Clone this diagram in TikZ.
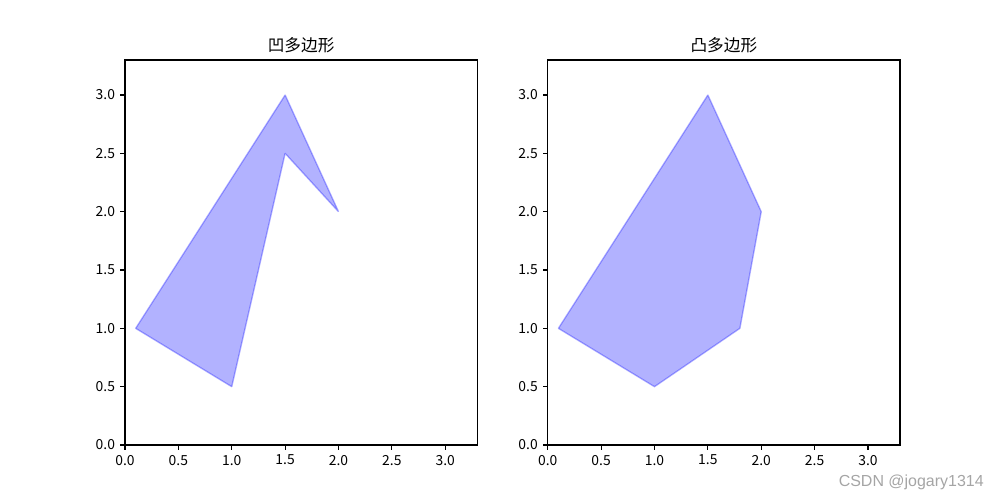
\documentclass[tikz,border=0pt]{standalone}
\usepackage{fontspec}
\newfontfamily\cjk{Noto Sans CJK SC}
\newfontfamily\wmfont{Liberation Sans}
\definecolor{wmgray}{RGB}{165,165,165}
\tikzset{
  spine/.style={draw=black, line width=0.8pt},
  tickmark/.style={draw=black, line width=0.8pt},
  ticklab/.style={font=\cjk\fontsize{10pt}{12pt}\selectfont, inner sep=0pt},
  ptitle/.style={font=\cjk\fontsize{12pt}{14pt}\selectfont, inner sep=0pt, anchor=base},
  poly/.style={fill=blue, fill opacity=0.3, draw=blue, draw opacity=0.3, line width=1pt, line join=bevel},
}
\begin{document}
\begin{tikzpicture}[x=0.72pt, y=-0.72pt]
\useasboundingbox (0,0) rectangle (1000,500);
% ---------- left axes ----------
\begin{scope}[shift={(125,445)}, x=76.86pt, y=84pt]
  \coordinate (L00) at (0,0);
  \fill[poly] (0.1,1) -- (1,0.5) -- (1.5,2.5) -- (2,2) -- (1.5,3) -- cycle;
  \draw[spine] (0,0) rectangle (3.3,3.3);
  \foreach \v/\t [count=\i] in {0/0.0,0.5/0.5,1/1.0,1.5/1.5,2/2.0,2.5/2.5,3/3.0}{
    \draw[tickmark] (\v,0) -- ++(0,-3.5pt) coordinate (lxt\i);
    \node[ticklab, anchor=north, below=3.5pt] (lxl\i) at (lxt\i) {\t};
    \draw[tickmark] (0,\v) -- ++(-3.5pt,0) coordinate (lyt\i);
    \node[ticklab, anchor=east, left=3.5pt] (lyl\i) at (lyt\i) {\t};
  }
  \node[ptitle] (ltitle) at ([yshift=6pt]1.65,3.3) {凹多边形};
\end{scope}
% ---------- right axes ----------
\begin{scope}[shift={(547.73,445)}, x=76.86pt, y=84pt]
  \coordinate (R00) at (0,0);
  \fill[poly] (0.1,1) -- (1,0.5) -- (1.8,1) -- (2,2) -- (1.5,3) -- cycle;
  \draw[spine] (0,0) rectangle (3.3,3.3);
  \foreach \v/\t [count=\i] in {0/0.0,0.5/0.5,1/1.0,1.5/1.5,2/2.0,2.5/2.5,3/3.0}{
    \draw[tickmark] (\v,0) -- ++(0,-3.5pt) coordinate (rxt\i);
    \node[ticklab, anchor=north, below=3.5pt] (rxl\i) at (rxt\i) {\t};
    \draw[tickmark] (0,\v) -- ++(-3.5pt,0) coordinate (ryt\i);
    \node[ticklab, anchor=east, left=3.5pt] (ryl\i) at (ryt\i) {\t};
  }
  \node[ptitle] (rtitle) at ([yshift=6pt]1.65,3.3) {凸多边形};
\end{scope}
% ---------- watermark ----------
\node[font=\wmfont\fontsize{11.5pt}{13pt}\selectfont, text=wmgray, inner sep=0pt, anchor=base east] (wm) at (984,486) {CSDN @jogary1314};
\end{tikzpicture}
\end{document}
